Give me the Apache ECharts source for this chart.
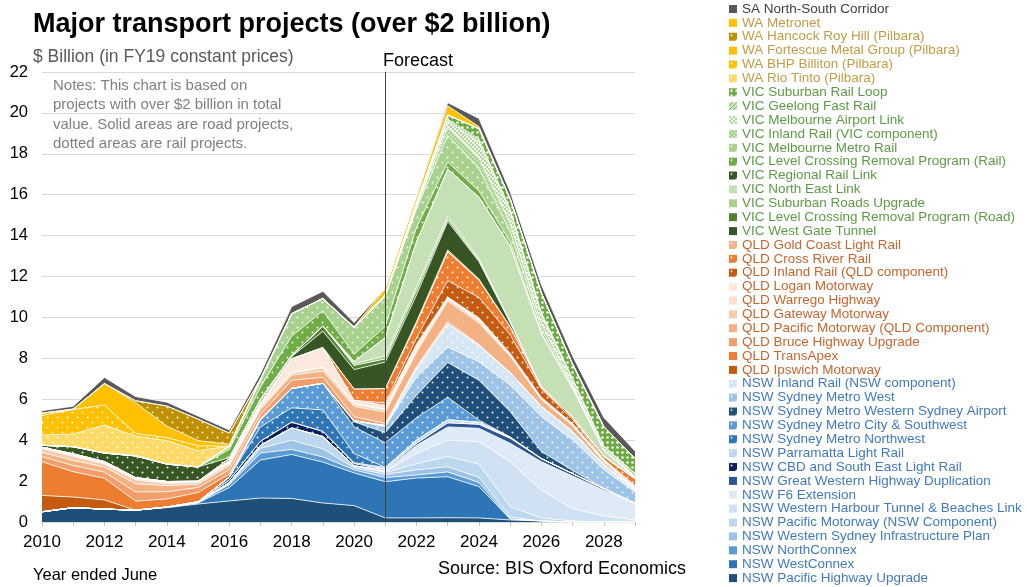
<!DOCTYPE html>
<html>
<head>
<meta charset="utf-8">
<script src="https://cdn.jsdelivr.net/npm/echarts@6/dist/echarts.min.js"></script>
<style>
  html, body { margin: 0; padding: 0; background: #fff; }
  #main { width: 1027px; height: 587px; }
</style>
</head>
<body>
<div id="main"></div>
<script>
// years on the x axis
var years = ['2010', '2011', '2012', '2013', '2014', '2015', '2016', '2017', '2018', '2019',
             '2020', '2021', '2022', '2023', '2024', '2025', '2026', '2027', '2028', '2029'];

// NSW ($ billion)
var nswPacificHwy   = [0.5, 0.7, 0.63, 0.58, 0.7, 0.88, 1.03, 1.17, 1.15, 0.93, 0.8, 0.2, 0.2, 0.21, 0.2, 0.1, 0.05, 0, 0, 0];
var nswWestConnex   = [0, 0, 0, 0, 0.03, 0.05, 0.65, 1.86, 2.15, 2.0, 1.6, 1.77, 1.95, 2.0, 1.53, 0.05, 0, 0, 0, 0];
var nswNorthConnex  = [0, 0, 0, 0, 0, 0.02, 0.15, 0.34, 0.25, 0.25, 0.15, 0.2, 0.15, 0.24, 0.2, 0, 0, 0, 0, 0];
var nswWsip         = [0, 0, 0, 0, 0, 0, 0.05, 0.23, 0.45, 0.4, 0.1, 0.15, 0.25, 0.25, 0.25, 0.1, 0, 0, 0, 0];
var nswPacificMwy   = [0, 0, 0, 0, 0, 0, 0.05, 0.15, 0.6, 0.6, 0.1, 0.1, 0.3, 0.5, 0.65, 0.5, 0.15, 0.05, 0, 0];
var nswWht          = [0, 0, 0, 0, 0, 0, 0, 0, 0, 0, 0, 0.05, 0.5, 0.8, 1.1, 2.2, 1.35, 0.6, 0.3, 0.1];
var nswF6           = [0, 0, 0, 0, 0, 0, 0, 0, 0, 0, 0, 0.05, 0.4, 0.65, 0.65, 0.9, 1.4, 1.6, 1.25, 0.8];
var nswGwh          = [0, 0, 0, 0, 0, 0, 0, 0, 0, 0, 0, 0.05, 0.1, 0.2, 0.2, 0.25, 0.15, 0.12, 0.08, 0.02];
var nswCbdLr        = [0, 0, 0, 0, 0, 0.02, 0.12, 0.2, 0.28, 0.25, 0.1, 0, 0, 0, 0, 0, 0, 0, 0, 0];
var nswParramattaLr = [0, 0, 0, 0, 0, 0, 0, 0, 0, 0, 0.05, 0.1, 0.15, 0.15, 0.1, 0.05, 0, 0, 0, 0];
var nswMetroNw      = [0, 0, 0, 0, 0, 0.02, 0.15, 0.7, 0.7, 1.05, 0.45, 0, 0, 0, 0, 0, 0, 0, 0, 0];
var nswMetroCity    = [0, 0, 0, 0, 0, 0, 0, 0.35, 0.95, 1.3, 1.3, 1.2, 1.1, 1.1, 0.1, 0, 0, 0, 0, 0];
var nswMetroWsa     = [0, 0, 0, 0, 0, 0, 0, 0, 0, 0, 0.25, 0.5, 1.1, 1.7, 1.95, 1.25, 0.35, 0.15, 0.03, 0];
var nswMetroWest    = [0, 0, 0, 0, 0, 0, 0, 0, 0, 0, 0.05, 0.3, 0.9, 0.75, 0.9, 1.3, 1.7, 1.5, 0.9, 0.55];
var nswInlandRail   = [0, 0, 0, 0, 0, 0, 0, 0, 0, 0, 0, 0.05, 0.4, 1.15, 0.8, 0.6, 0.5, 0.4, 0.25, 0.1];

// QLD
var qldIpswich      = [0.8, 0.52, 0.45, 0, 0, 0, 0, 0, 0, 0, 0, 0, 0, 0, 0, 0, 0, 0, 0, 0];
var qldTransApex    = [1.65, 1.24, 1.06, 0.44, 0.4, 0.45, 0.15, 0.05, 0, 0, 0, 0, 0, 0, 0, 0, 0, 0, 0, 0];
var qldBruce        = [0.25, 0.3, 0.3, 0.45, 0.35, 0.25, 0.2, 0.2, 0.4, 0.3, 0.2, 0.1, 0.1, 0.1, 0.05, 0, 0, 0, 0, 0];
var qldPacificMwy   = [0.2, 0.25, 0.25, 0.4, 0.3, 0.15, 0.2, 0.25, 0.25, 0.3, 0.5, 0.55, 0.7, 1.0, 1.05, 0.8, 0.35, 0.3, 0.15, 0.05];
var qldGateway      = [0.2, 0.2, 0.15, 0.2, 0.1, 0.1, 0.1, 0.1, 0.1, 0.15, 0.1, 0.1, 0.1, 0.1, 0.1, 0.05, 0, 0, 0, 0];
var qldWarrego      = [0, 0.05, 0.05, 0.05, 0.05, 0.05, 0.05, 0.05, 0.05, 0.05, 0.05, 0.05, 0.1, 0.05, 0.05, 0, 0, 0, 0, 0];
var qldLogan        = [0.05, 0.07, 0.06, 0.05, 0.05, 0, 0.05, 0.1, 0.65, 0.95, 0.15, 0.2, 0.2, 0.05, 0.1, 0.1, 0.1, 0.1, 0.1, 0.15];
var qldInlandRail   = [0, 0, 0, 0, 0, 0, 0, 0, 0, 0, 0, 0.1, 0.3, 0.8, 1.0, 0.9, 0.4, 0.2, 0, 0];
var qldCrossRiver   = [0, 0, 0, 0, 0, 0, 0, 0, 0, 0, 0.55, 0.7, 0.7, 1.4, 0.85, 0.4, 0.1, 0.1, 0.15, 0.35];
var qldGoldCoastLr  = [0, 0, 0, 0, 0, 0, 0.05, 0.05, 0, 0, 0, 0, 0.1, 0.1, 0.05, 0, 0, 0, 0, 0];

// VIC
var vicWestGate     = [0, 0, 0, 0, 0, 0, 0, 0.05, 0.1, 0.8, 0.95, 1.3, 1.3, 1.4, 0.85, 0.2, 0, 0, 0, 0];
var vicLxrpRoad     = [0, 0, 0, 0, 0, 0, 0.1, 0.1, 0.05, 0.25, 0.2, 0.15, 0.2, 0.1, 0.05, 0, 0, 0, 0, 0];
var vicSuburbanRds  = [0, 0, 0, 0, 0, 0, 0, 0.05, 0, 0, 0.1, 0.15, 0.2, 0.15, 0.1, 0.05, 0, 0, 0, 0];
var vicNorthEast    = [0, 0, 0, 0, 0, 0, 0, 0, 0, 0, 0.1, 0.9, 2.2, 2.3, 3.0, 3.7, 2.6, 1.4, 0.3, 0.05];
var vicRegionalRail = [0.1, 0.35, 0.42, 1.06, 0.85, 0.7, 0.05, 0, 0, 0, 0, 0, 0, 0, 0, 0, 0, 0, 0, 0];
var vicLxrpRail     = [0, 0, 0, 0, 0, 0, 0.4, 0.6, 0.95, 0.75, 0.35, 0.55, 0.7, 0.35, 0.3, 0.2, 0.05, 0, 0, 0];
var vicMetroRail    = [0, 0, 0, 0, 0, 0, 0.15, 0.35, 1.1, 0.6, 1.3, 1.45, 0.9, 1.3, 1.1, 0.5, 0.2, 0.1, 0, 0];
var vicInlandRail   = [0, 0, 0, 0, 0, 0, 0, 0, 0, 0, 0, 0.05, 0.1, 0.4, 0.5, 0.4, 0.25, 0.1, 0.05, 0];
var vicAirportLink  = [0, 0, 0, 0, 0, 0, 0, 0, 0, 0, 0, 0.05, 0.1, 0.3, 0.8, 0.6, 0.45, 0.25, 0.15, 0.2];
var vicGeelong      = [0, 0, 0, 0, 0, 0, 0, 0, 0, 0, 0, 0, 0.05, 0.1, 0.15, 0.1, 0.1, 0.05, 0, 0];
var vicSrl          = [0, 0, 0, 0, 0, 0, 0, 0, 0, 0, 0, 0, 0.05, 0.2, 0.5, 0.5, 0.95, 0.7, 0.95, 0.75];

// WA
var waRioTinto      = [0.5, 0.62, 1.37, 0.97, 1.15, 0.8, 0, 0, 0, 0, 0, 0, 0, 0, 0, 0, 0, 0, 0, 0];
var waBhp           = [0.95, 1.2, 0.98, 0.13, 0.15, 0.24, 0, 0, 0, 0, 0, 0, 0, 0, 0, 0, 0, 0, 0, 0];
var waFortescue     = [0.12, 0.02, 1.05, 1.5, 0.56, 0.25, 0.1, 0, 0, 0, 0, 0, 0, 0, 0, 0, 0, 0, 0, 0];
var waHancock       = [0, 0, 0, 0.1, 0.98, 1.05, 0.55, 0.05, 0, 0, 0, 0, 0, 0, 0, 0, 0, 0, 0, 0];
var waMetronet      = [0, 0, 0, 0, 0, 0, 0, 0, 0, 0, 0.05, 0.3, 0.3, 0.45, 0.1, 0, 0, 0, 0, 0];

// SA
var saNorthSouth    = [0.12, 0.14, 0.3, 0.2, 0.19, 0.15, 0.15, 0.25, 0.35, 0.35, 0.2, 0, 0.02, 0.15, 0.4, 0.35, 0.4, 0.4, 0.45, 0.35];

var FONT = 'Liberation Sans, Arial, sans-serif';
var groupText = { SA: '#404040', WA: '#C29C45', VIC: '#5E9A46', QLD: '#C6652E', NSW: '#4279BE' };

// small canvas tiles for the rail patterns
function tile(base, kind) {
  var s = kind === 'dots' ? 10 : (kind === 'check' ? 5 : 4);
  var c = document.createElement('canvas');
  c.width = s; c.height = s;
  var g = c.getContext('2d');
  g.fillStyle = base;
  g.fillRect(0, 0, s, s);
  function dot(x, y, r, col) {
    g.fillStyle = col;
    g.beginPath(); g.arc(x, y, r, 0, Math.PI * 2); g.fill();
  }
  if (kind === 'dots') {
    dot(2.5, 2.5, 1, 'rgba(255,255,255,0.9)');
    dot(7.5, 7.5, 1, 'rgba(255,255,255,0.9)');
  } else if (kind === 'check') {
    dot(2.5, 2.5, 1.3, 'rgba(255,255,255,0.95)');
  } else if (kind === 'gdots') {
    dot(1, 1, 0.8, '#70AD47');
    dot(3, 3, 0.8, '#70AD47');
  } else if (kind === 'fine') {
    dot(1, 1, 0.7, 'rgba(255,255,255,0.9)');
    dot(3, 3, 0.7, 'rgba(255,255,255,0.9)');
  } else if (kind === 'diag') {
    g.strokeStyle = '#70AD47';
    g.lineWidth = 1;
    g.beginPath(); g.moveTo(0, 4); g.lineTo(4, 0); g.stroke();
  }
  return { image: c, repeat: 'repeat' };
}

// stacking order, bottom first
var layers = [
  ['NSW Pacific Highway Upgrade', nswPacificHwy, '#1F4E79', null, 'NSW'],
  ['NSW WestConnex', nswWestConnex, '#2E75B6', null, 'NSW'],
  ['NSW NorthConnex', nswNorthConnex, '#5B9BD5', null, 'NSW'],
  ['NSW Western Sydney Infrastructure Plan', nswWsip, '#9DC3E6', null, 'NSW'],
  ['NSW Pacific Motorway (NSW Component)', nswPacificMwy, '#BDD7EE', null, 'NSW'],
  ['NSW Western Harbour Tunnel & Beaches Link', nswWht, '#CFE1F3', null, 'NSW'],
  ['NSW F6 Extension', nswF6, '#DEEBF7', null, 'NSW'],
  ['NSW Great Western Highway Duplication', nswGwh, '#2F5597', null, 'NSW'],
  ['NSW CBD and South East Light Rail', nswCbdLr, '#0B1F5C', 'dots', 'NSW'],
  ['NSW Parramatta Light Rail', nswParramattaLr, '#BDD7EE', 'dots', 'NSW'],
  ['NSW Sydney Metro Northwest', nswMetroNw, '#2E75B6', 'dots', 'NSW'],
  ['NSW Sydney Metro City & Southwest', nswMetroCity, '#5B9BD5', 'dots', 'NSW'],
  ['NSW Sydney Metro Western Sydney Airport', nswMetroWsa, '#1F4E79', 'dots', 'NSW'],
  ['NSW Sydney Metro West', nswMetroWest, '#9DC3E6', 'dots', 'NSW'],
  ['NSW Inland Rail (NSW component)', nswInlandRail, '#D6E6F5', 'dots', 'NSW'],
  ['QLD Ipswich Motorway', qldIpswich, '#C55A11', null, 'QLD'],
  ['QLD TransApex', qldTransApex, '#ED7D31', null, 'QLD'],
  ['QLD Bruce Highway Upgrade', qldBruce, '#F19E6A', null, 'QLD'],
  ['QLD Pacific Motorway (QLD Component)', qldPacificMwy, '#F4B183', null, 'QLD'],
  ['QLD Gateway Motorway', qldGateway, '#F8CBAD', null, 'QLD'],
  ['QLD Warrego Highway', qldWarrego, '#FBE0CF', null, 'QLD'],
  ['QLD Logan Motorway', qldLogan, '#FCE8DC', null, 'QLD'],
  ['QLD Inland Rail (QLD component)', qldInlandRail, '#C55A11', 'dots', 'QLD'],
  ['QLD Cross River Rail', qldCrossRiver, '#ED7D31', 'dots', 'QLD'],
  ['QLD Gold Coast Light Rail', qldGoldCoastLr, '#F4B183', 'dots', 'QLD'],
  ['VIC West Gate Tunnel', vicWestGate, '#375623', null, 'VIC'],
  ['VIC Level Crossing Removal Program (Road)', vicLxrpRoad, '#548235', null, 'VIC'],
  ['VIC Suburban Roads Upgrade', vicSuburbanRds, '#A9D18E', null, 'VIC'],
  ['VIC North East Link', vicNorthEast, '#C5E0B4', null, 'VIC'],
  ['VIC Regional Rail Link', vicRegionalRail, '#375623', 'dots', 'VIC'],
  ['VIC Level Crossing Removal Program (Rail)', vicLxrpRail, '#70AD47', 'dots', 'VIC'],
  ['VIC Melbourne Metro Rail', vicMetroRail, '#A9D18E', 'dots', 'VIC'],
  ['VIC Inland Rail (VIC component)', vicInlandRail, '#A9D18E', 'fine', 'VIC'],
  ['VIC Melbourne Airport Link', vicAirportLink, '#EEF6E8', 'gdots', 'VIC'],
  ['VIC Geelong Fast Rail', vicGeelong, '#D5EACA', 'diag', 'VIC'],
  ['VIC Suburban Rail Loop', vicSrl, '#6CAA43', 'check', 'VIC'],
  ['WA Rio Tinto (Pilbara)', waRioTinto, '#FFD966', 'dots', 'WA'],
  ['WA BHP Billiton (Pilbara)', waBhp, '#FFC000', 'dots', 'WA'],
  ['WA Fortescue Metal Group (Pilbara)', waFortescue, '#FFC000', null, 'WA'],
  ['WA Hancock Roy Hill (Pilbara)', waHancock, '#BF9000', 'dots', 'WA'],
  ['WA Metronet', waMetronet, '#FFC000', null, 'WA'],
  ['SA North-South Corridor', saNorthSouth, '#595959', null, 'SA']
];

var series = layers.map(function (l, i) {
  var fill = l[3] ? tile(l[2], l[3]) : l[2];
  var s = {
    name: l[0],
    type: 'line',
    stack: 'total',
    data: l[1],
    symbol: 'none',
    smooth: false,
    itemStyle: { color: fill },
    lineStyle: { color: '#ffffff', width: 0.8 },
    areaStyle: { color: fill, opacity: 1 },
    emphasis: { disabled: true },
    animation: false
  };
  if (i === 0) {
    s.markLine = {
      silent: true,
      symbol: ['none', 'none'],
      label: { show: false },
      lineStyle: { color: '#404040', width: 1, type: 'solid' },
      data: [{ xAxis: '2021' }],
      z: 10
    };
  }
  return s;
});

var legendData = layers.slice().reverse().map(function (l) {
  return { name: l[0], textStyle: { color: groupText[l[4]] } };
});

var chart = echarts.init(document.getElementById('main'), null, { renderer: 'canvas' });
chart.setOption({
  animation: false,
  textStyle: { fontFamily: FONT },
  title: [{
    text: 'Major transport projects (over $2 billion)',
    left: 33, top: 11, padding: 0,
    textStyle: { fontSize: 27, fontWeight: 'bold', color: '#000', fontFamily: FONT }
  }, {
    text: '$ Billion (in FY19 constant prices)',
    left: 33, top: 48, padding: 0,
    textStyle: { fontSize: 17.5, fontWeight: 'normal', color: '#595959', fontFamily: FONT }
  }],
  graphic: [{
    type: 'text', left: 53, top: 76,
    style: {
      text: 'Notes: This chart is based on\nprojects with over $2 billion in total\nvalue. Solid areas are road projects,\ndotted areas are rail projects.',
      font: '15px ' + FONT, fill: '#808080', lineHeight: 19.5
    }
  }, {
    type: 'text', left: 383, top: 52,
    style: { text: 'Forecast', font: '18px ' + FONT, fill: '#000' }
  }, {
    type: 'text', left: 33, top: 567,
    style: { text: 'Year ended June', font: '16.5px ' + FONT, fill: '#000' }
  }, {
    type: 'text', left: 438, top: 560,
    style: { text: 'Source: BIS Oxford Economics', font: '18px ' + FONT, fill: '#000' }
  }],
  legend: {
    orient: 'vertical',
    left: 729, top: 2,
    height: 640,
    padding: 0,
    icon: 'rect',
    itemWidth: 8, itemHeight: 8,
    itemGap: -0.12,
    selectedMode: false,
    textStyle: { fontSize: 13.5, lineHeight: 13.6, fontFamily: FONT },
    data: legendData
  },
  grid: { left: 42, right: 392, top: 72, bottom: 65, containLabel: false },
  xAxis: {
    type: 'category',
    data: years,
    boundaryGap: false,
    axisLine: { lineStyle: { color: '#D9D9D9' } },
    axisTick: { show: true, interval: 0, length: 4, lineStyle: { color: '#BFBFBF' } },
    axisLabel: { interval: 1, fontSize: 17, color: '#000', margin: 12, fontFamily: FONT }
  },
  yAxis: {
    type: 'value',
    min: 0, max: 22, interval: 2,
    axisLine: { show: false },
    axisTick: { show: false },
    axisLabel: { fontSize: 16.5, color: '#000', margin: 14, fontFamily: FONT },
    splitLine: { lineStyle: { color: '#D9D9D9', width: 1 } }
  },
  series: series
});
</script>
</body>
</html>
